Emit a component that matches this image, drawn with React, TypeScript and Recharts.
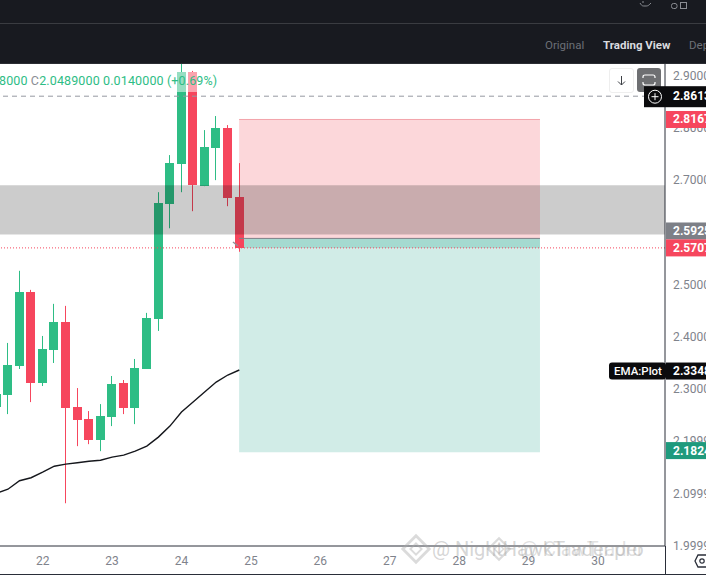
import React from "react";
import { ComposedChart, Bar, Line, XAxis, YAxis, ReferenceArea, ReferenceLine } from "recharts";

const W = 706;
const H = 575;

const times = [21.333, 21.5, 21.667, 21.833, 22, 22.167, 22.333, 22.5, 22.667, 22.833, 23, 23.167, 23.333, 23.5, 23.667, 23.833, 24, 24.167, 24.333, 24.5, 24.667, 24.833];
const opens = [2.2657, 2.2888, 2.3445, 2.4865, 2.3118, 2.3752, 2.4289, 2.2657, 2.2427, 2.2024, 2.2466, 2.3118, 2.2638, 2.3387, 2.4347, 2.6544, 2.7312, 2.9078, 2.689, 2.7619, 2.8003, 2.6678];
const highs = [2.302, 2.3886, 2.5268, 2.4903, 2.402, 2.4635, 2.4596, 2.3022, 2.2581, 2.2715, 2.3253, 2.3176, 2.3579, 2.4462, 2.6774, 2.7485, 2.9231, 2.9097, 2.7964, 2.8233, 2.806, 2.7331];
const lows = [2.255, 2.2523, 2.3387, 2.2753, 2.3061, 2.3502, 2.0815, 2.1909, 2.1947, 2.1813, 2.2293, 2.2523, 2.2331, 2.3387, 2.4116, 2.6083, 2.6774, 2.641, 2.689, 2.7005, 2.6506, 2.5633];
const closes = [2.2907, 2.3464, 2.4865, 2.3118, 2.3771, 2.4289, 2.2638, 2.2408, 2.2024, 2.2485, 2.3099, 2.2638, 2.3406, 2.4366, 2.6563, 2.7331, 2.9078, 2.6909, 2.7638, 2.8003, 2.6659, 2.5707];
const ema = [2.1007, 2.1084, 2.1247, 2.1304, 2.141, 2.1525, 2.1564, 2.1592, 2.1621, 2.164, 2.1698, 2.1736, 2.1813, 2.1909, 2.2082, 2.2293, 2.2562, 2.2754, 2.2945, 2.3137, 2.3272, 2.3368];

const dayTicks = [22, 23, 24, 25, 26, 27, 28, 29, 30];
const priceTicks = [2.9, 2.8, 2.7, 2.6, 2.5, 2.4, 2.3, 2.2, 2.1, 2.0];
const priceLabels = ["2.9000", "2.8000", "2.7000", "2.6000", "2.5000", "2.4000", "2.3000", "2.1999", "2.0999", "1.9999"];

const currentPrice = 2.8613;
const stopPrice = 2.8167;
const bandTop = 2.6908;
const bandBottom = 2.5966;
const entryPrice = 2.5889;
const lastClose = 2.5707;
const emaPrice = 2.3348;
const targetPrice = 2.1824;
const grayBadgeAnchor = 2.6031;

const boxStart = 24.83;
const boxEnd = 29.164;

const badgeValues = [currentPrice, stopPrice, grayBadgeAnchor, lastClose, emaPrice, targetPrice];
const badgeLabels = ["2.8613", "2.8167", "2.5925", "2.5707", "2.3348", "2.1824"];
const badgeColors = ["#0b0b0d", "#f6465d", "#7d8087", "#f6465d", "#0b0b0d", "#1f9a7d"];

const GREEN = "#2ebd85";
const RED = "#f6465d";
const FONT = "Roboto, sans-serif";

const rows = times.map((t, i) => ({
  t,
  range: [lows[i], highs[i]],
  open: opens[i],
  high: highs[i],
  low: lows[i],
  close: closes[i],
  ema: ema[i],
}));

function Candle(props: any) {
  const { x, y, width, height, payload } = props;
  const { open, close, high, low } = payload;
  const pxPerUnit = height / (high - low);
  const top = y + (high - Math.max(open, close)) * pxPerUnit;
  const bottom = y + (high - Math.min(open, close)) * pxPerUnit;
  const color = close >= open ? GREEN : RED;
  const bx = Math.round(x);
  const cx = bx + width / 2;
  return (
    <g>
      <line x1={cx} x2={cx} y1={y} y2={y + height} stroke={color} strokeWidth={1} />
      <rect x={bx} y={Math.round(top)} width={width} height={Math.max(Math.round(bottom) - Math.round(top), 1)} fill={color} />
    </g>
  );
}

function PriceTick(props: any) {
  const { x, y, payload } = props;
  const v = payload.value;
  const bi = badgeValues.indexOf(v);
  const left = x - 8;
  if (bi >= 0) {
    const isCurrent = v === currentPrice;
    const isEma = v === emaPrice;
    return (
      <g>
        {isCurrent && <rect x={left - 21} y={y - 10} width={22} height={21} fill="#0b0b0d" />}
        {isCurrent && <circle cx={left - 10} cy={y + 0.5} r={6.5} fill="none" stroke="#fff" strokeWidth={1} />}
        {isCurrent && <path d={`M${left - 13.5} ${y + 0.5}H${left - 6.5}M${left - 10} ${y - 3}V${y + 4}`} stroke="#fff" strokeWidth={1} />}
        {isEma && <rect x={left - 56} y={y - 8.5} width={57} height={17} rx={3} fill="#0b0b0d" />}
        {isEma && (
          <text x={left - 51} y={y + 4} fill="#fff" fontSize={11.5} fontWeight={500} fontFamily={FONT}>
            EMA:Plot
          </text>
        )}
        <rect x={left + 1} y={isCurrent ? y - 10 : y - 8.5} width={42} height={isCurrent ? 21 : 17} fill={badgeColors[bi]} />
        <text x={left + 8} y={y + 4} fill="#fff" fontSize={12} fontWeight={700} fontFamily={FONT}>
          {badgeLabels[bi]}
        </text>
      </g>
    );
  }
  const pi = priceTicks.indexOf(v);
  return (
    <text x={left + 8} y={y + 4} fill="#7f838c" fontSize={12} fontFamily={FONT}>
      {priceLabels[pi]}
    </text>
  );
}

function Header() {
  return (
    <div style={{ position: "absolute", left: 0, top: 0, width: W, height: 64, background: "#181a20", overflow: "hidden", fontFamily: FONT }}>
      <div style={{ position: "absolute", left: 0, top: 23, width: W, height: 1, background: "#3a3c41" }} />
      <div style={{ position: "absolute", left: 0, top: 63, width: W, height: 1, background: "#2b2d33" }} />
      <span style={{ position: "absolute", left: 545, top: 38, fontSize: 11.5, color: "#6c7077" }}>Original</span>
      <span style={{ position: "absolute", left: 603, top: 38, fontSize: 11.5, fontWeight: 700, color: "#d9dbdf" }}>Trading View</span>
      <span style={{ position: "absolute", left: 689, top: 38, fontSize: 11.5, color: "#6c7077" }}>Depth</span>
      <svg width={W} height={24} style={{ position: "absolute", left: 0, top: 0 }}>
        <path d="M640 3C642 6 642 6 645 6C648 6 648 6 651 3M643 1V3" fill="none" stroke="#8a8d93" strokeWidth={1} />
        <rect x={671.5} y={3.5} width={5.5} height={5} rx={2} fill="none" stroke="#8a8d93" />
        <rect x={680.5} y={2.5} width={6} height={6} fill="none" stroke="#8a8d93" />
      </svg>
    </div>
  );
}

function Buttons() {
  return (
    <>
      <div style={{ position: "absolute", left: 609, top: 68, width: 23, height: 23, background: "#fff", border: "1px solid #eeeeee", borderRadius: 3 }}>
        <svg width={23} height={23}>
          <path d="M11.5 7V16M8 12.5L11.5 16L15 12.5" fill="none" stroke="#3c3f45" strokeWidth={1} />
        </svg>
      </div>
      <div style={{ position: "absolute", left: 637, top: 68, width: 24, height: 24, background: "#6e6f72", borderRadius: 3 }}>
        <svg width={24} height={24}>
          <path d="M8 7H16Q18 7 18 9V10M6 10V9Q6 7 8 7M8 17H16Q18 17 18 15V14M6 14V15Q6 17 8 17" fill="none" stroke="#fff" strokeWidth={1.2} />
        </svg>
      </div>
    </>
  );
}

function Logo({ left, size }: { left: number; size: number }) {
  return (
    <svg width={size} height={size} style={{ position: "absolute", left, top: 549 - size / 2 }} viewBox="0 0 34 34">
      <path d="M17 3L31 17L17 31L3 17Z" fill="none" stroke="rgba(170,170,170,0.42)" strokeWidth={3} />
      <path d="M17 11L23 17L17 23L11 17Z" fill="none" stroke="rgba(170,170,170,0.42)" strokeWidth={2} />
    </svg>
  );
}

function Overlay() {
  return (
    <>
      <div style={{ position: "absolute", left: 0, top: 72, width: 218, height: 20, background: "rgba(255,255,255,0.5)" }} />
      <div style={{ position: "absolute", left: -1, top: 73, fontFamily: FONT, fontSize: 12.5, lineHeight: "15px", whiteSpace: "pre", color: GREEN, letterSpacing: 0.13 }}>
        {"8000 "}
        <span style={{ color: "#8a8d93" }}>C</span>
        {"2.0489000 0.0140000 (+0.69%)"}
      </div>
      <div style={{ position: "absolute", left: 0, top: 574, width: W, height: 1, background: "#2a2e39" }} />
      <div style={{ position: "absolute", left: 665, top: 546, width: 1, height: 28, background: "#2a2e39" }} />
      <div style={{ position: "absolute", left: 432, top: 537, fontFamily: FONT, fontSize: 20, lineHeight: "24px", color: "rgba(150,150,150,0.4)", whiteSpace: "pre" }}>
        @ NightHawkTrader.pro
      </div>
      <div style={{ position: "absolute", left: 520, top: 537, fontFamily: FONT, fontSize: 20, lineHeight: "24px", color: "rgba(150,150,150,0.3)", whiteSpace: "pre" }}>
        @ ClawTrader
      </div>
      <Logo left={400} size={32} />
      <Logo left={486} size={26} />
      <svg width={12} height={16} style={{ position: "absolute", left: 694, top: 554 }}>
        <path d="M12 1H4L1 7L4 13H12" fill="#fff" stroke="#2a2e39" strokeWidth={1.3} />
        <circle cx={8} cy={7} r={2.2} fill="none" stroke="#2a2e39" strokeWidth={1.2} />
      </svg>
      <svg width={20} height={14} style={{ position: "absolute", left: 228, top: 238 }}>
        <path d="M5 4L10 8" stroke="#8f9198" strokeWidth={1.5} />
      </svg>
    </>
  );
}

export default function App() {
  return (
    <div style={{ position: "absolute", left: 0, top: 0, width: W, height: H, background: "#fff", overflow: "hidden" }}>
      <Header />
      <Buttons />
      <ComposedChart
        width={W}
        height={H}
        data={rows}
        margin={{ top: 64, right: 0, bottom: 0, left: 0 }}
        barSize={9}
        style={{ position: "absolute", left: 0, top: 0 }}
      >
        <XAxis
          xAxisId="t"
          dataKey="t"
          type="number"
          domain={[21.3855, 30.965]}
          allowDataOverflow
          ticks={dayTicks}
          interval={0}
          height={29}
          axisLine={{ stroke: "#2a2e39", strokeWidth: 1 }}
          tickLine={false}
          tick={{ fill: "#7f838c", fontSize: 12, fontFamily: FONT, dy: 2 }}
        />
        <YAxis
          yAxisId="p"
          orientation="right"
          type="number"
          domain={[1.99962, 2.92299]}
          allowDataOverflow
          ticks={[...priceTicks, ...badgeValues]}
          interval={0}
          width={41}
          axisLine={{ stroke: "#2a2e39", strokeWidth: 1 }}
          tickLine={false}
          tick={<PriceTick />}
        />
        <Bar xAxisId="t" yAxisId="p" dataKey="range" shape={<Candle />} isAnimationActive={false} />
        <Line xAxisId="t" yAxisId="p" dataKey="ema" stroke="#15171c" strokeWidth={1.4} dot={false} activeDot={false} isAnimationActive={false} />
        <ReferenceArea xAxisId="t" yAxisId="p" x1={boxStart} x2={boxEnd} y1={stopPrice} y2={entryPrice} fill="#f23645" fillOpacity={0.2} stroke="none" />
        <ReferenceArea xAxisId="t" yAxisId="p" x1={boxStart} x2={boxEnd} y1={entryPrice} y2={targetPrice - 0.0034} fill="#089981" fillOpacity={0.19} stroke="none" />
        <ReferenceArea xAxisId="t" yAxisId="p" x1={boxStart} x2={boxEnd} y1={entryPrice} y2={lastClose} fill="#089981" fillOpacity={0.22} stroke="none" />
        <ReferenceArea xAxisId="t" yAxisId="p" y1={bandTop} y2={bandBottom} fill="#000" fillOpacity={0.2} stroke="none" zIndex={450} />
        <ReferenceLine xAxisId="t" yAxisId="p" segment={[{ x: boxStart, y: stopPrice }, { x: boxEnd, y: stopPrice }]} stroke="#f3a3aa" strokeWidth={1} />
        <ReferenceLine xAxisId="t" yAxisId="p" segment={[{ x: boxStart, y: entryPrice }, { x: boxEnd, y: entryPrice }]} stroke="#7d8087" strokeWidth={1} />
        <ReferenceLine xAxisId="t" yAxisId="p" y={currentPrice} stroke="#9598a1" strokeDasharray="5 4" />
        <ReferenceLine xAxisId="t" yAxisId="p" y={lastClose} stroke="#f6465d" strokeDasharray="1 2" />
      </ComposedChart>
      <Overlay />
    </div>
  );
}
